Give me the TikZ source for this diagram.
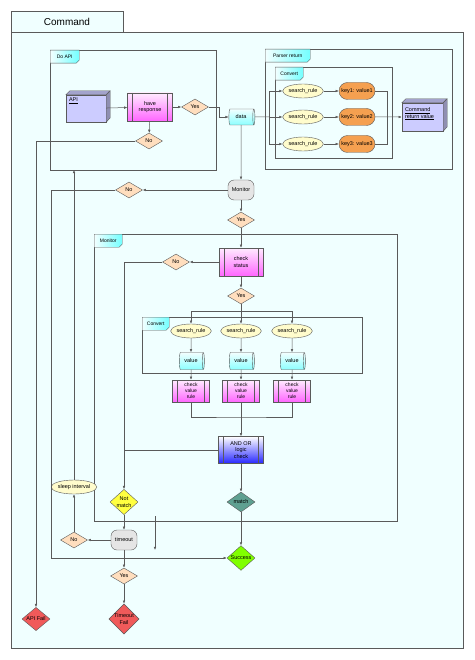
\documentclass[tikz,border=0pt]{standalone}
\usepackage{fontspec}
\setmainfont{Liberation Sans}
\usetikzlibrary{shapes.geometric,shapes.misc,arrows.meta}
\definecolor{bgcyan}{RGB}{240,255,255}
\definecolor{ans}{RGB}{255,222,190}
\definecolor{keyor}{RGB}{245,160,80}
\definecolor{boxlav}{RGB}{204,204,255}
\definecolor{matchc}{RGB}{95,160,145}
\definecolor{succ}{RGB}{128,255,0}
\definecolor{failc}{RGB}{240,90,90}
\definecolor{notm}{RGB}{255,255,64}
\definecolor{edge}{RGB}{90,90,90}
\begin{document}
\begin{tikzpicture}[x=1pt,y=-1pt,
    every node/.style={font=\fontsize{5.5}{6.5}\selectfont, align=center},
    line/.style={draw=edge, line width=0.5pt},
    arr/.style={line, -{Latex[length=3.2pt,width=2.6pt]}},
    grp/.style={draw=edge, line width=0.6pt},
    tab/.style={chamfered rectangle, chamfered rectangle corners=south east,
        chamfered rectangle xsep=1.5pt, chamfered rectangle ysep=1.5pt,
        draw=edge, line width=0.4pt, left color=cyan!5, right color=cyan!55,
        anchor=north west, minimum height=13pt, inner sep=1pt,
        font=\fontsize{5}{6}\selectfont},
    choice/.style={diamond, draw=edge, fill=ans, inner sep=0pt,
        minimum width=27pt, minimum height=16pt},
    term/.style={rectangle, rounded corners=6pt, draw=edge, fill=gray!20,
        minimum width=26pt, minimum height=20pt, inner sep=1pt},
    rule/.style={ellipse, draw=edge, fill=yellow!20, minimum width=36pt,
        minimum height=14pt, inner sep=0pt},
    keyval/.style={rounded rectangle, draw=edge, fill=keyor, minimum width=38pt,
        minimum height=17pt, inner sep=1pt},
    store/.style={cylinder, shape border rotate=0, shape aspect=0.35, draw=edge,
        top color=cyan!5, bottom color=cyan!45, minimum width=16pt,
        minimum height=26pt, inner sep=1pt},
    proc/.style={rectangle, draw=edge, top color=magenta!8, bottom color=magenta!60,
        minimum width=45pt, minimum height=28pt, inner sep=1pt,
        path picture={\draw[edge]
            ([xshift=5pt]path picture bounding box.north west) -- ([xshift=5pt]path picture bounding box.south west)
            ([xshift=-5pt]path picture bounding box.north east) -- ([xshift=-5pt]path picture bounding box.south east);}},
    cube/.style={rectangle, draw=edge, fill=boxlav, minimum width=40pt,
        minimum height=27pt, inner sep=2pt}]
\useasboundingbox (0,0) rectangle (474,660);
% frame
\filldraw[draw=edge, fill=bgcyan, line width=0.6pt] (11,32) rectangle (463,648);
\filldraw[draw=edge, fill=bgcyan, line width=0.6pt] (11,11) rectangle (123,32);
\node[font=\fontsize{10}{12}\selectfont] (title) at (67,21.5) {Command};

% Do API
\draw[grp] (50,50) rectangle (216,170);
\node[tab, minimum width=29pt] (apitab) at (50,50) {Do API};
\node[cube, label={[anchor=north west, inner sep=3pt]north west:\underline{API}}] (api) at (86,108.5) {};
\filldraw[draw=edge, fill=boxlav!80!black] (api.north west) -- ++(4,-4) -- ++(40,0) -- (api.north east) -- cycle;
\filldraw[draw=edge, fill=boxlav!70!black] (api.north east) -- ++(4,-4) -- ++(0,27) -- (api.south east) -- cycle;
\node[proc] (resp) at (150,107) {have\\response};
\node[choice] (yes1) at (195,107) {Yes};
\node[choice] (no1) at (149,141) {No};
\node[store] (data) at (241,117) {data};
\draw[arr] (api) -- (resp);
\draw[arr] (resp) -- (yes1);
\draw[arr] (resp) -- (no1);
\draw[arr] (yes1.east) -- ++(11,0) |- (data.west);

% Parser return
\draw[grp] (265,49) rectangle (452,169);
\node[tab, minimum width=45pt] (partab) at (265,49) {Parser return};
\draw[grp] (275,67) rectangle (392,158);
\node[tab, minimum width=28pt] (convtab) at (275,67) {Convert};
\node[rule] (sr1) at (303,91) {search\_rule};
\node[rule] (sr2) at (303,117) {search\_rule};
\node[rule] (sr3) at (303,144) {search\_rule};
\node[keyval] (k1) at (357,91) {key1: value1};
\node[keyval] (k2) at (357,117) {key2: value2};
\node[keyval] (k3) at (357,144) {key3: value3};
\node[cube, minimum width=41pt, minimum height=28pt, label={[anchor=west, align=left, inner sep=3pt, yshift=3pt]west:\underline{Command}\\\underline{return value}}] (ret) at (422.5,117) {};
\filldraw[draw=edge, fill=boxlav!80!black] (ret.north west) -- ++(4,-4) -- ++(41,0) -- (ret.north east) -- cycle;
\filldraw[draw=edge, fill=boxlav!70!black] (ret.north east) -- ++(4,-4) -- ++(0,28) -- (ret.south east) -- cycle;
\coordinate (pbus) at (269,117);
\coordinate (kbus) at (387,117);
\draw[line] (data) -- (pbus);
\draw[arr] (pbus) |- (sr1);
\draw[arr] (pbus) -- (sr2);
\draw[arr] (pbus) |- (sr3);
\draw[arr] (sr1) -- (k1);
\draw[arr] (sr2) -- (k2);
\draw[arr] (sr3) -- (k3);
\draw[line] (k1) -| (kbus);
\draw[line] (k3) -| (kbus);
\draw[arr] (k2) -- (ret);

% Monitor loop
\node[term] (mon) at (241,190) {Monitor};
\node[choice] (no2) at (129,190) {No};
\node[choice] (yes2) at (241,220) {Yes};
\draw[arr] (data) -- (mon);
\draw[arr] (mon) -- (no2);
\draw[arr] (mon) -- (yes2);

\draw[grp] (94,234) rectangle (397,521);
\node[tab, minimum width=28pt] (montab) at (94,234) {Monitor};
\node[proc, minimum width=44pt] (chk) at (241,262) {check\\status};
\node[choice] (no3) at (176,262) {No};
\node[choice] (yes3) at (241,296) {Yes};
\draw[arr] (yes2) -- (chk);
\draw[arr] (chk) -- (no3);
\draw[arr] (chk) -- (yes3);

\draw[grp] (142,317) rectangle (362,373);
\node[tab, minimum width=27pt] (convtab2) at (142,317) {Convert};
\coordinate (cbus) at (241,311);
\coordinate (abus) at (241,417);
\foreach \i/\x in {1/191,2/241,3/292}{
  \node[rule] (csr\i) at (\x,331) {search\_rule};
  \node[store, minimum height=25pt, minimum width=17pt] (val\i) at (\x,361) {value};
  \node[proc, minimum width=37pt, minimum height=22pt,
    font=\fontsize{5}{5.8}\selectfont] (cvr\i) at (\x,391) {check\\value\\rule};
  \draw[arr] (cbus) -| (csr\i);
  \draw[arr] (csr\i) -- (val\i);
  \draw[arr] (val\i) -- (cvr\i);
}
\draw[line] (yes3) -- (cbus);
\draw[line] (cvr1) |- (abus) -| (cvr3);
\node[proc, minimum width=45pt, minimum height=27pt, top color=white,
    bottom color=blue!85] (andor) at (241,450) {AND OR\\logic\\check};
\draw[arr] (cvr2) -- (andor);
\node[choice, fill=matchc, minimum width=28pt, minimum height=20pt] (match) at (241,502) {match};
\node[choice, fill=notm, minimum width=28pt, minimum height=22pt] (notmatch) at (124,502) {Not\\match};
\draw[arr] (andor) -- (match);
\draw[arr] (no3) -| (notmatch);
\draw[line] (andor.west) -- (andor.west -| notmatch);

% outcome
\node[choice, fill=succ, minimum width=28pt, minimum height=22pt] (success) at (241,558) {Success};
\node[term] (timeout) at (124,540) {timeout};
\node[choice] (no4) at (74,540) {No};
\node[rule] (sleep) at (74,487) {sleep interval};
\node[choice] (yes4) at (124,576) {Yes};
\node[choice, fill=failc, minimum width=28pt, minimum height=22pt] (tfail) at (124,619) {Timeout\\Fail};
\node[choice, fill=failc, minimum width=28pt, minimum height=22pt] (apifail) at (36,619) {API Fail};
\coordinate (apiback) at (74,170);
\coordinate (nocorner) at (51,558);
\coordinate (stray1) at (155,516);
\coordinate (stray2) at (155,550);
\draw[arr] (match) -- (success);
\draw[arr] (no2.west) -| (nocorner) -- (success.west);
\draw[arr] (notmatch) -- (timeout);
\draw[arr] (timeout) -- (no4);
\draw[arr] (no4) -- (sleep);
\draw[arr] (sleep) -- (apiback);
\draw[arr] (timeout) -- (yes4);
\draw[arr] (yes4) -- (tfail);
\draw[arr] (no1.west) -| (apifail.north);
\draw[arr] (stray1) -- (stray2);
\end{tikzpicture}
\end{document}
